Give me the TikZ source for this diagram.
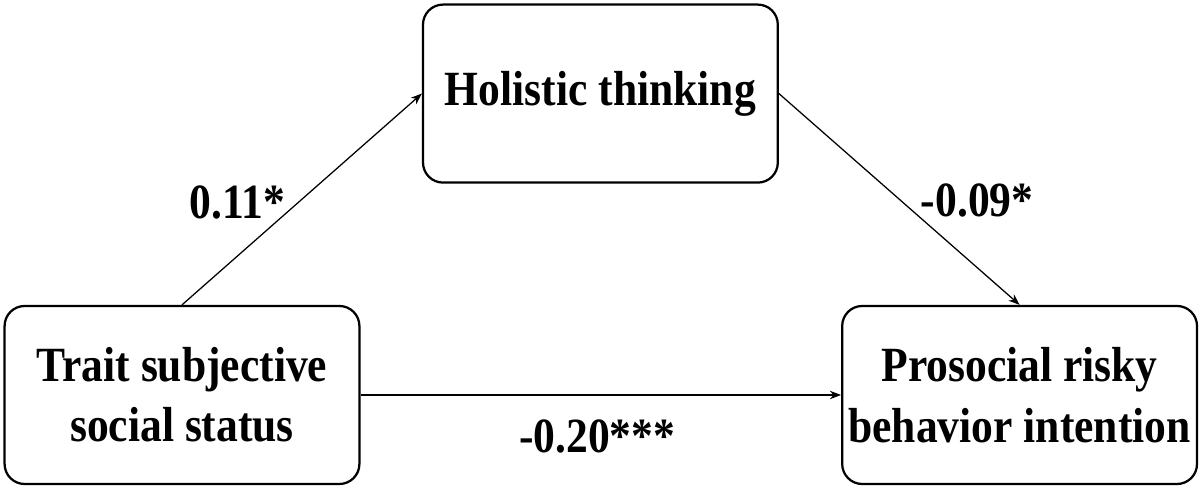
\documentclass[tikz,border=0pt]{standalone}
\usepackage{fontspec}
\setmainfont{Liberation Serif}[FakeStretch=0.885]
\usetikzlibrary{arrows.meta}
\begin{document}
\begin{tikzpicture}[
        every node/.style={align=center, font=\fontsize{35}{43}\selectfont\bfseries},
        var/.style={rectangle, draw, line width=1.6pt, rounded corners=0.5cm, minimum width=8.87cm, minimum height=4.45cm},
        effect/.style={-{Stealth[length=8pt,width=6pt]}, line width=0.9pt},
        coef/.style={inner sep=0pt}
    ]
        \useasboundingbox (0,0) rectangle (30,12.25);

        \node[var] (holistic)  at (15.01, 9.91) {Holistic thinking};
        \node[var] (status)    at (4.55, 2.375) {Trait subjective\\social status};
        \node[var] (prosocial) at (25.49, 2.375) {Prosocial risky\\behavior intention};

        \draw[effect] (status.north) -- (holistic.west);
        \draw[effect] (holistic.east) -- (prosocial.north);
        \draw[effect] (status.east) -- (prosocial.west);

        \node[coef] (a) at (5.93, 7.2)   {0.11*};
        \node[coef] (b) at (24.43, 7.25) {-0.09*};
        \node[coef] (c) at (14.93, 1.33) {-0.20***};
    \end{tikzpicture}
\end{document}
